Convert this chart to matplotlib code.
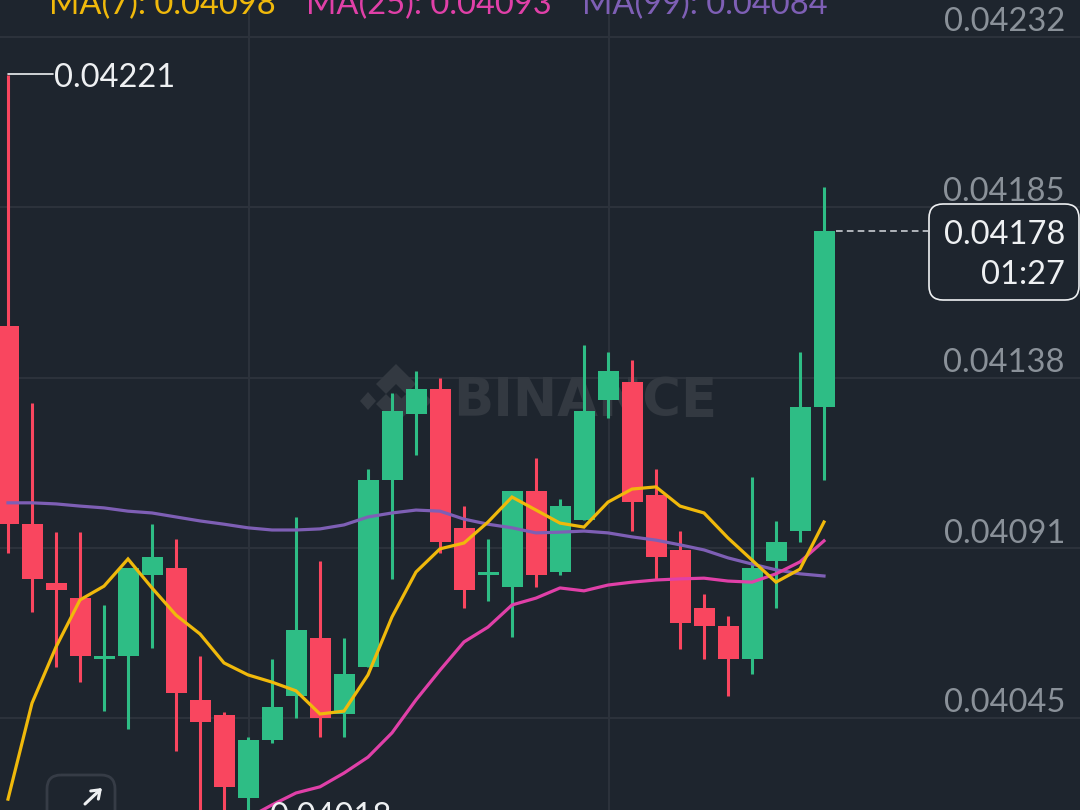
import matplotlib
matplotlib.use("Agg")
import matplotlib.pyplot as plt
import numpy as np
from matplotlib.patches import FancyBboxPatch, Polygon
from matplotlib.transforms import Affine2D

# ---- data (prices) ----
opens = [0.041522, 0.040975, 0.040813, 0.040771, 0.040603, 0.040611, 0.040835, 0.040854, 0.040490, 0.040448,
         0.040219, 0.040379, 0.040501, 0.040661, 0.040451, 0.040581, 0.041097, 0.041279, 0.041348, 0.040965,
         0.040835, 0.040802, 0.041067, 0.040843, 0.040987, 0.041318, 0.041368, 0.041056, 0.040904, 0.040744,
         0.040694, 0.040603, 0.040873, 0.040956, 0.041299]
closes = [0.040975, 0.040824, 0.040793, 0.040611, 0.040611, 0.040854, 0.040884, 0.040509, 0.040429, 0.040250,
          0.040379, 0.040470, 0.040683, 0.040440, 0.040561, 0.041097, 0.041288, 0.041348, 0.040926, 0.040793,
          0.040843, 0.041067, 0.040835, 0.041025, 0.041288, 0.041398, 0.041036, 0.040884, 0.040702, 0.040694,
          0.040603, 0.040854, 0.040926, 0.041299, 0.041784]
highs = [0.042215, 0.041310, 0.040953, 0.040953, 0.040752, 0.040854, 0.040975, 0.040934, 0.040611, 0.040457,
         0.040388, 0.040603, 0.040995, 0.040873, 0.040661, 0.041127, 0.041337, 0.041398, 0.041379, 0.041025,
         0.040934, 0.041067, 0.041158, 0.041045, 0.041470, 0.041450, 0.041428, 0.041127, 0.040956, 0.040782,
         0.040722, 0.041105, 0.040984, 0.041450, 0.041906]
lows = [0.040896, 0.040733, 0.040581, 0.040539, 0.040459, 0.040410, 0.040633, 0.040349, 0.040180, 0.040180,
        0.040175, 0.040371, 0.040440, 0.040388, 0.040388, 0.040581, 0.040824, 0.041166, 0.040896, 0.040744,
        0.040763, 0.040664, 0.040802, 0.040835, 0.040987, 0.041268, 0.040956, 0.040821, 0.040631, 0.040603,
        0.040501, 0.040561, 0.040744, 0.040926, 0.041097]
ma7 = [0.040216, 0.040481, 0.040636, 0.040766, 0.040804, 0.040879, 0.040799, 0.040724, 0.040672, 0.040592,
       0.040559, 0.040539, 0.040515, 0.040451, 0.040459, 0.040559, 0.040719, 0.040843, 0.040907, 0.040923,
       0.040981, 0.041050, 0.041014, 0.040978, 0.040967, 0.041036, 0.041072, 0.041078, 0.041025, 0.041006,
       0.040937, 0.040876, 0.040815, 0.040851, 0.040981]
ma25 = [0.040164, 0.040200, 0.040233, 0.040250, 0.040288, 0.040332, 0.040399, 0.040490, 0.040572, 0.040650,
        0.040691, 0.040752, 0.040771, 0.040799, 0.040791, 0.040807, 0.040815, 0.040821, 0.040824, 0.040826,
        0.040818, 0.040815, 0.040838, 0.040871, 0.040929]
ma99 = [0.041034, 0.041034, 0.041031, 0.041025, 0.041020, 0.041011, 0.041006, 0.040995, 0.040984, 0.040975,
        0.040965, 0.040959, 0.040959, 0.040962, 0.040973, 0.040995, 0.041006, 0.041014, 0.041011, 0.040989,
        0.040975, 0.040965, 0.040951, 0.040953, 0.040956, 0.040951, 0.040940, 0.040931, 0.040918, 0.040904,
        0.040882, 0.040865, 0.040849, 0.040838, 0.040832]
ma25_start = 10
tick_vals = [0.042320, 0.041851, 0.041379, 0.040909, 0.040440]
tick_labels = ["0.04232", "0.04185", "0.04138", "0.04091", "0.04045"]
grid_times = [10, 25]
legend_labels = ["MA(7): 0.04098", "MA(25): 0.04093", "MA(99): 0.04084"]
high_label = "0.04221"
low_label = "0.04018"
last_price = "0.04178"
countdown = "01:27"
watermark = "BINANCE"

# ---- style ----
BG = "#1E252E"
GRID = "#2C323B"
UP = "#2EBD85"
DOWN = "#F9465F"
C7, C25, C99 = "#F0B90B", "#E040A8", "#7E5FB5"
AXIS_TXT = "#8A9199"
WHITE = "#EEF0F2"
plt.rcParams["font.family"] = ["Lato", "DejaVu Sans"]

fig = plt.figure(figsize=(10.8, 8.1), dpi=100, facecolor=BG)
ax = fig.add_axes([0, 0, 1, 1], facecolor=BG)
ax.set_xlim(-8 / 24, 1072 / 24)
ax.set_ylim(0.040186, 0.0424221)
ax.axis("off")
px = Affine2D().scale(1 / 1080, -1 / 810).translate(0, 1) + fig.transFigure

# grid
for v in tick_vals:
    ax.axhline(v, color=GRID, lw=1.5, zorder=1)
for t in grid_times:
    ax.axvline(t + 0.04, color=GRID, lw=1.5, zorder=1)

# watermark
ax.text(585, 401, watermark, transform=px, color="#333941", fontsize=38, fontweight="bold",
        family="DejaVu Sans", ha="center", va="center", zorder=1.5)
wm_shapes = [[(396, 364), (416, 384), (406, 394), (396, 384), (386, 394), (376, 384)],
             [(396, 424), (376, 404), (386, 394), (396, 404), (406, 394), (416, 404)],
             [(368, 392), (376, 401), (368, 410), (360, 401)],
             [(396, 393), (404, 401), (396, 409), (388, 401)],
             [(424, 393), (432, 401), (424, 409), (416, 401)]]
for s in wm_shapes:
    ax.add_patch(Polygon(s, closed=True, transform=px, facecolor="#333941", edgecolor="none", zorder=1.5))

# candles
idx = np.arange(len(opens))
o, c, h, l = map(np.array, (opens, closes, highs, lows))
cols = [UP if cc >= oo else DOWN for oo, cc in zip(o, c)]
ax.vlines(idx, l, h, colors=cols, lw=2.2, zorder=3)
ax.bar(idx, np.abs(c - o), bottom=np.minimum(o, c), width=0.875, color=cols, zorder=3)

# moving averages
ax.plot(idx, ma99, color=C99, lw=2.3, zorder=4)
ax.plot(idx[ma25_start:], ma25, color=C25, lw=2.3, zorder=5)
ax.plot(idx, ma7, color=C7, lw=2.3, zorder=6, solid_joinstyle="miter")

# axis labels
for v, lab in zip(tick_vals, tick_labels):
    y_disp = ax.transData.transform((0, v))[1]
    ax.annotate(lab, xy=(1065, 810 - y_disp - 14.5), xycoords=px, color=AXIS_TXT, fontsize=23.5,
                ha="right", va="center", zorder=7)

# MA legend
for x0, lab, col in zip([49, 306, 582], legend_labels, [C7, C25, C99]):
    ax.text(x0, 5, lab, transform=px, color=col, fontsize=23.5, ha="left", va="center", zorder=7)

# high / low markers
ax.annotate("", xy=(8, 74), xytext=(53, 74), xycoords=px, textcoords=px,
            arrowprops=dict(arrowstyle="-", color=WHITE, lw=1.2, shrinkA=0, shrinkB=0), zorder=7)
ax.text(54, 78, high_label, transform=px, color=WHITE, fontsize=23.5, ha="left", va="center", zorder=7)
ax.text(270, 817, low_label, transform=px, color=WHITE, fontsize=23.5, ha="left", va="center", zorder=7,
        clip_on=True)

# last price
ax.plot([836, 928], [231, 231], transform=px, color="#C9CDD2", lw=1.2, ls=(0, (4, 2.5)), zorder=7)
ax.add_patch(FancyBboxPatch((941, 216), 126, 72, boxstyle="round,pad=12,rounding_size=14", transform=px,
                            facecolor=BG, edgecolor=WHITE, lw=1.2, zorder=8))
ax.text(1065, 235, last_price, transform=px, color=WHITE, fontsize=23.5, ha="right", va="center", zorder=9)
ax.text(1065, 275, countdown, transform=px, color=WHITE, fontsize=23.5, ha="right", va="center", zorder=9)

# expand button
ax.add_patch(FancyBboxPatch((59, 787), 44, 60, boxstyle="round,pad=12,rounding_size=14", transform=px,
                            facecolor="none", edgecolor="#363C46", lw=2, zorder=7))
ax.annotate("", xy=(102, 788), xytext=(85, 804), xycoords=px, textcoords=px,
            arrowprops=dict(arrowstyle="->,head_length=0.55,head_width=0.4", color=WHITE, lw=2.2,
                            shrinkA=0, shrinkB=0), zorder=8)

fig.savefig("out.png", dpi=100, facecolor=BG)
